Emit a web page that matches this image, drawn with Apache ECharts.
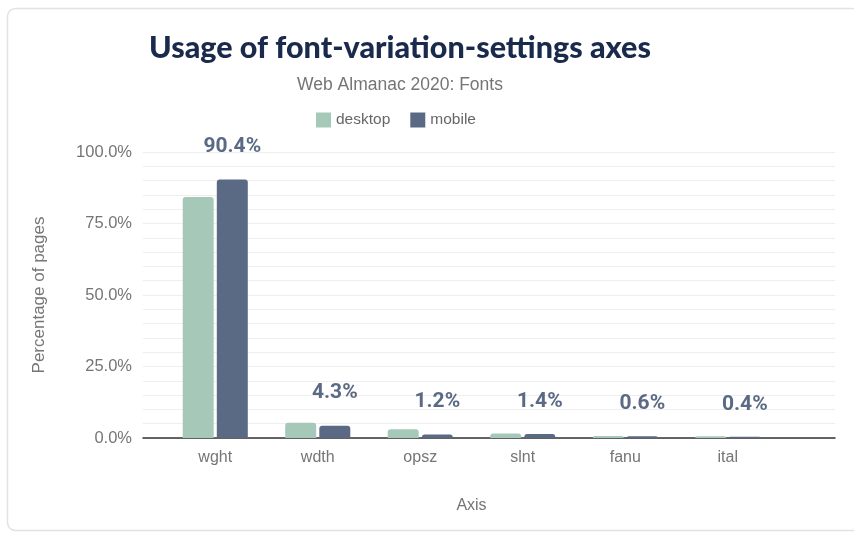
<!DOCTYPE html>
<html>
<head>
<meta charset="utf-8">
<script src="https://cdn.jsdelivr.net/npm/echarts@6/dist/echarts.min.js"></script>
<style>
  html, body { margin: 0; padding: 0; background: #fff; }
  #chart { width: 854px; height: 533px; }
</style>
</head>
<body>
<div id="chart"></div>
<script>
// font axes and share of pages (%)
var axesNames = ['wght', 'wdth', 'opsz', 'slnt', 'fanu', 'ital'];
var desktopPct = [84.3, 5.3, 3.1, 1.6, 0.7, 0.6];
var mobilePct = [90.4, 4.3, 1.2, 1.4, 0.6, 0.4];
var yTicks = [0, 25, 50, 75, 100];

var myChart = echarts.init(document.getElementById('chart'));
var fontFam = '"Liberation Sans", Arial, sans-serif';
var grey = '#757575';

var option = {
  animation: false,
  color: ['#a5c8b8', '#5b6a84'],
  // card frame around the chart
  graphic: [{
    type: 'rect',
    left: 5,
    top: 6,
    silent: true,
    shape: { width: 870, height: 522, r: 8 },
    style: { fill: 'none', stroke: '#e2e2e2', lineWidth: 1.5 }
  }],
  title: {
    text: 'Usage of font-variation-settings axes',
    subtext: 'Web Almanac 2020: Fonts',
    left: 395,
    top: 28,
    textAlign: 'center',
    itemGap: 12,
    textStyle: {
      fontFamily: 'Lato, sans-serif',
      fontWeight: 900,
      fontSize: 30.5,
      color: '#1a2a4c'
    },
    subtextStyle: {
      fontFamily: fontFam,
      fontSize: 17.5,
      color: grey
    }
  },
  legend: {
    data: ['desktop', 'mobile'],
    left: 311,
    top: 107,
    itemWidth: 15,
    itemHeight: 15,
    itemGap: 20,
    icon: 'rect',
    textStyle: { fontFamily: fontFam, fontSize: 15.5, color: '#666' }
  },
  // grid 0: gridlines, y labels and axis line; grid 1: the bars
  grid: [
    { left: 143, right: 19, top: 152, bottom: 95 },
    { left: 164, right: 75, top: 152, bottom: 95 }
  ],
  xAxis: [
    {
      type: 'category',
      gridIndex: 0,
      data: axesNames,
      axisTick: { show: false },
      axisLabel: { show: false },
      axisLine: { lineStyle: { color: '#333', width: 1.5 } }
    },
    {
      type: 'category',
      gridIndex: 1,
      data: axesNames,
      axisTick: { show: false },
      axisLine: { show: false },
      axisLabel: { fontFamily: fontFam, fontSize: 16, color: grey, margin: 12 },
      name: 'Axis',
      nameLocation: 'middle',
      nameGap: 60,
      nameTextStyle: { fontFamily: fontFam, fontSize: 16, color: grey }
    }
  ],
  yAxis: [
    {
      type: 'value',
      gridIndex: 0,
      min: 0,
      max: 100,
      interval: 5,
      name: 'Percentage of pages',
      nameLocation: 'middle',
      nameGap: 95,
      nameTextStyle: { fontFamily: fontFam, fontSize: 17, color: grey },
      axisLine: { show: false },
      axisTick: { show: false },
      splitLine: { lineStyle: { color: '#eeeeee', width: 1 } },
      axisLabel: {
        fontFamily: fontFam,
        fontSize: 16.5,
        color: grey,
        margin: 11,
        formatter: function (v) {
          return yTicks.indexOf(v) >= 0 ? v.toFixed(1) + '%' : '';
        }
      }
    },
    {
      type: 'value',
      gridIndex: 1,
      min: 0,
      max: 100,
      show: false,
      splitLine: { show: false }
    }
  ],
  series: [
    {
      name: 'desktop',
      type: 'bar',
      xAxisIndex: 1,
      yAxisIndex: 1,
      data: desktopPct,
      barWidth: 31,
      barGap: '10%',
      itemStyle: { borderRadius: [3, 3, 0, 0] }
    },
    {
      name: 'mobile',
      type: 'bar',
      xAxisIndex: 1,
      yAxisIndex: 1,
      data: mobilePct,
      barWidth: 31,
      itemStyle: { borderRadius: [3, 3, 0, 0] },
      label: {
        show: true,
        position: 'top',
        distance: 22,
        fontFamily: 'Roboto, sans-serif',
        fontWeight: 'bold',
        fontSize: 21,
        color: '#5b6a84',
        formatter: function (p) { return p.value.toFixed(1) + '%'; }
      }
    }
  ]
};
myChart.setOption(option);
window.onresize = myChart.resize;
</script>
</body>
</html>
